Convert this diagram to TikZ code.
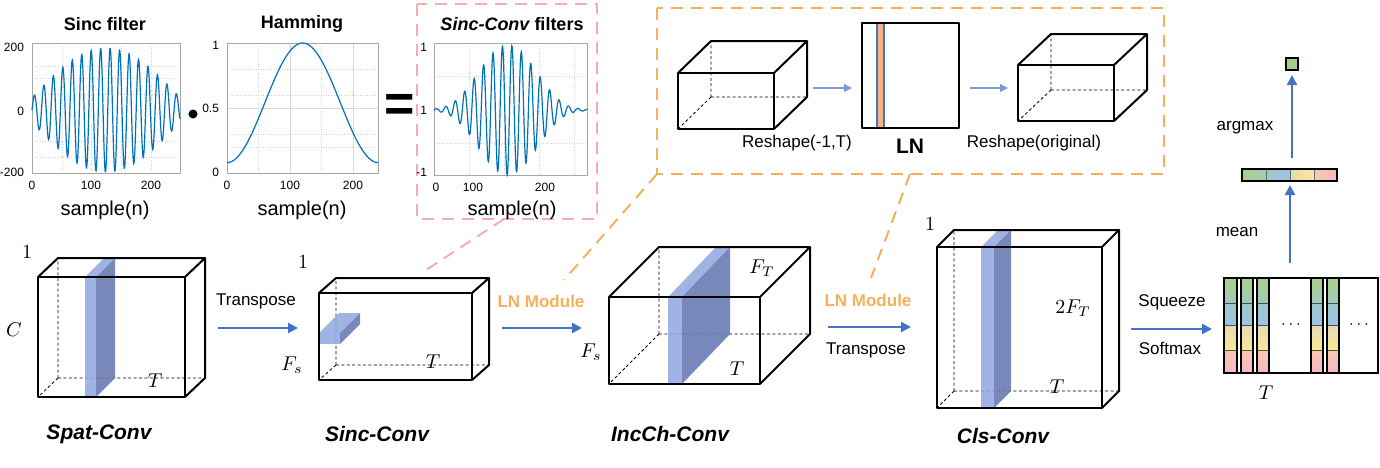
\documentclass[tikz,border=0pt]{standalone}
\usepackage{fontspec}
\setsansfont{Liberation Sans}
\usetikzlibrary{arrows.meta}
\definecolor{arr}{HTML}{4472C4}
\definecolor{org}{HTML}{F4B15A}
\definecolor{pnk}{HTML}{F2AEB0}
\definecolor{pb}{HTML}{0072BD}
\definecolor{sl}{HTML}{8EA7E0}
\definecolor{sd}{HTML}{6A7BB2}
\definecolor{cg}{HTML}{A8D08D}
\definecolor{cb}{HTML}{9DC3E6}
\definecolor{cy}{HTML}{FFE699}
\definecolor{cp}{HTML}{F4B6C2}
\tikzset{
 hid/.style={dash pattern=on 1.5pt off 1.2pt,line width=0.4pt},
 edge/.style={line width=1pt,line join=round},
 bar/.style={-{Triangle[length=5pt,width=5pt]},arr,line width=1.1pt},
 sarr/.style={-{Triangle[length=4pt,width=4pt]},arr!70,line width=0.8pt},
 lab/.style={font=\sffamily\fontsize{8.5}{10}\selectfont},
 ttl/.style={font=\sffamily\bfseries\fontsize{9}{11}\selectfont},
 tick/.style={font=\sffamily\fontsize{6}{7}\selectfont},
 ccap/.style={font=\sffamily\bfseries\itshape\fontsize{10.5}{12}\selectfont},
 mth/.style={font=\fontsize{10}{12}\selectfont},
 lnm/.style={font=\sffamily\bfseries\fontsize{8.5}{10}\selectfont,text=org},
 odash/.style={org,dashed,dash pattern=on 6pt off 4pt,line width=1pt},
 pdash/.style={pnk,dash pattern=on 6pt off 4pt,line width=1pt},
 grd/.style={gray!35,densely dotted,line width=0.3pt},
 axb/.style={gray!70,line width=0.4pt},
 smp/.style={font=\sffamily\fontsize{10}{12}\selectfont}
}
\newcommand\cubehid[6]{\draw[hid] ({#1+(#5)},{#4+(#6)}) -- ({#1+(#5)},{#2+(#6)}) ({#1+(#5)},{#4+(#6)}) -- ({#3+(#5)},{#4+(#6)}) ({#1+(#5)},{#4+(#6)}) -- (#1,#4);}
\newcommand\cubeedge[6]{\draw[edge] (#1,#2) rectangle (#3,#4);
 \draw[edge] (#1,#2) -- ({#1+(#5)},{#2+(#6)}) -- ({#3+(#5)},{#2+(#6)}) -- (#3,#2) ({#3+(#5)},{#2+(#6)}) -- ({#3+(#5)},{#4+(#6)}) -- (#3,#4);}
\newcommand\slab[6]{%
 \fill[sl,opacity=0.85] (#1,#3) rectangle (#2,#4);
 \fill[sl,opacity=0.85] (#1,#3) -- ({#1+(#5)},{#3+(#6)}) -- ({#2+(#5)},{#3+(#6)}) -- (#2,#3) -- cycle;
 \fill[sd,opacity=0.9] (#2,#3) -- ({#2+(#5)},{#3+(#6)}) -- ({#2+(#5)},{#4+(#6)}) -- (#2,#4) -- cycle;}
\begin{document}
\begin{tikzpicture}[x=0.5pt,y=-0.5pt]
\useasboundingbox (0,0) rectangle (1380,467);
% ---------- plot 1
\foreach \g in {62,91,121,151} \draw[grd] (\g,43) -- (\g,173);
\foreach \g in {66,78,94,141,157} \draw[grd] (32,\g) -- (180,\g);
\draw[axb] (32,43) rectangle (180,173);
\draw[pb,line width=0.6pt] plot[domain=0:250,samples=500] ({32+0.592*\x},{110-0.31*(40+160*cos(0.72*(\x-125)))*sin(22.5*\x)});
\node[ttl] (t1) at (105,24) {Sinc filter};
\node[tick,anchor=east] (a1) at (31,47) {200};
\node[tick,anchor=east] (a2) at (31,111) {0};
\node[tick,anchor=east] (a3) at (31,172) {-200};
\node[tick] (a4) at (32,185) {0};
\node[tick] (a5) at (91,185) {100};
\node[tick] (a6) at (151,185) {200};
\node[smp] (s1) at (105,210) {sample(n)};
\node[circle,fill=black,inner sep=1.6pt] (dot) at (193,114) {};
% ---------- plot 2
\foreach \g in {258,290,321,353} \draw[grd] (\g,43) -- (\g,173);
\foreach \g in {69,95,134,147} \draw[grd] (227,\g) -- (378,\g);
\draw[gray!30,line width=0.4pt] (227,108) -- (378,108) (290,43) -- (290,173) (353,43)--(353,173);
\draw[axb] (227,43) rectangle (378,173);
\draw[pb,line width=0.6pt] plot[domain=0:240,samples=200] ({227+0.63*\x},{173-130*(0.54-0.46*cos(1.5*\x))});
\node[ttl] (t2) at (302,24) {Hamming};
\node[tick,anchor=east] (b1) at (226,45) {1};
\node[tick,anchor=east] (b2) at (226,108) {0.5};
\node[tick,anchor=east] (b3) at (226,172) {0};
\node[tick] (b4) at (227,185) {0};
\node[tick] (b5) at (290,185) {100};
\node[tick] (b6) at (353,185) {200};
\node[smp] (s2) at (302,210) {sample(n)};
\node[font=\sffamily\bfseries\fontsize{26}{26}\selectfont] (eq) at (400,108) {=};
% ---------- plot 3
\draw[pdash] (417,4) rectangle (597,219);
\foreach \g in {469,504,539,574} \draw[grd] (\g,43) -- (\g,175);
\foreach \g in {76,143} \draw[grd] (434,\g) -- (587,\g);
\draw[axb] (434,43) rectangle (587,175);
\draw[pb,line width=0.6pt] plot[domain=0:260,samples=500] ({434+0.59*\x},{110-65*(40+160*cos(0.72*(\x-125)))/200*(0.54-0.46*cos(1.44*\x))*sin(22.5*\x)});
\node[ttl] (t3) at (512,24) {\itshape Sinc-Conv\upshape\ filters};
\node[tick,anchor=east] (c1) at (434,47) {1};
\node[tick,anchor=east] (c2) at (434,110) {1};
\node[tick,anchor=east] (c3) at (434,172) {-1};
\node[tick] (c4) at (436,187) {0};
\node[tick] (c5) at (473,187) {100};
\node[tick] (c6) at (545,187) {200};
\node[smp] (s3) at (512,210) {sample(n)};
% ---------- LN module box
\draw[odash] (657,8) rectangle (1164,174);
\cubehid{678}{73}{774}{129}{33}{-32}
\cubeedge{678}{73}{774}{129}{33}{-32}
\fill[org!80!red!70] (877,23) rectangle (884,128);
\draw[arr,line width=0.6pt] (877,23) rectangle (884,128);
\draw[edge] (862,23) rectangle (959,128);
\cubehid{1018}{65}{1114}{121}{33}{-31}
\cubeedge{1018}{65}{1114}{121}{33}{-31}
\coordinate (r1a) at (813,88); \coordinate (r1b) at (852,88);
\coordinate (r2a) at (970,88); \coordinate (r2b) at (1008,88);
\draw[sarr] (r1a) -- (r1b);
\draw[sarr] (r2a) -- (r2b);
\node[lab] (rs1) at (797,143) {Reshape(-1,T)};
\node[font=\sffamily\bfseries\fontsize{10.5}{12}\selectfont] (ln) at (910,146) {LN};
\node[lab] (rs2) at (1034,143) {Reshape(original)};
% connectors to detail boxes
\coordinate (pk1) at (504,219); \coordinate (pk2) at (426,270);
\draw[pdash] (pk1) -- (pk2);
\coordinate (o1) at (657,174); \coordinate (o2) at (564,280);
\draw[odash] (o1) -- (o2);
\coordinate (o3) at (910,174); \coordinate (o4) at (871,278);
\draw[odash] (o3) -- (o4);
% ---------- Spat-Conv
\cubehid{38}{277}{185}{397}{20}{-19}
\slab{85}{96}{277}{397}{19}{-19}
\cubeedge{38}{277}{185}{397}{20}{-19}
\node[mth] (one1) at (27,252) {1};
\node[mth] (C) at (14,330) {$C$};
\node[mth] (T1) at (155,381) {$T$};
\node[ccap] (spat) at (99,434) {Spat-Conv};
\coordinate (ta) at (218,328); \coordinate (tb) at (298,328);
\draw[bar] (ta) -- (tb);
\node[lab] (tr1) at (256,301) {Transpose};
% ---------- Sinc-Conv
\cubehid{319}{293}{472}{380}{17}{-15}
\slab{319}{340}{333}{344}{20}{-20}
\cubeedge{319}{293}{472}{380}{17}{-15}
\node[mth] (one2) at (303,262) {1};
\node[mth] (Fs1) at (292,365) {$F_s$};
\node[mth] (T2) at (433,362) {$T$};
\node[ccap] (sinc) at (377,434) {Sinc-Conv};
\coordinate (la) at (502,328); \coordinate (lb) at (582,328);
\draw[bar] (la) -- (lb);
\node[lnm] (lnm1) at (541,301) {LN Module};
% ---------- IncCh-Conv
\cubehid{609}{297}{760}{384}{50}{-50}
\slab{668}{682}{297}{384}{48}{-50}
\cubeedge{609}{297}{760}{384}{50}{-50}
\node[mth] (FT) at (762,268) {$F_T$};
\node[mth] (Fs2) at (591,352) {$F_s$};
\node[mth] (T3) at (737,369) {$T$};
\node[ccap] (inc) at (670,434) {IncCh-Conv};
\coordinate (l2a) at (828,327); \coordinate (l2b) at (911,327);
\draw[bar] (l2a) -- (l2b);
\node[lnm] (lnm2) at (868,300) {LN Module};
\node[lab] (tr2) at (866,350) {Transpose};
% ---------- Cls-Conv
\cubehid{937}{247}{1102}{408}{17}{-17}
\slab{981}{994}{247}{408}{17}{-17}
\cubeedge{937}{247}{1102}{408}{17}{-17}
\node[mth] (one3) at (930,224) {1};
\node[mth] (FT2) at (1073,308) {$2F_T$};
\node[mth] (T4) at (1057,387) {$T$};
\node[ccap] (cls) at (1003,436) {Cls-Conv};
\coordinate (sa) at (1131,329); \coordinate (sb) at (1212,329);
\draw[bar] (sa) -- (sb);
\node[lab] (sq) at (1172,302) {Squeeze};
\node[lab] (sm) at (1170,348) {Softmax};
% ---------- output map
\foreach \xa/\xb in {1224/1237,1241/1253,1257/1269,1311/1323,1327/1339}{
 \shade[top color=cg,bottom color=cg!55!cb] (\xa,278) rectangle (\xb,303);
 \shade[top color=cb!70!cg,bottom color=cb] (\xa,303) rectangle (\xb,325);
 \shade[top color=cy!70!cb,bottom color=cy] (\xa,325) rectangle (\xb,350);
 \shade[top color=cp!60!cy,bottom color=cp] (\xa,350) rectangle (\xb,373);
 \draw[line width=0.4pt,black!70] (\xa,303) -- (\xb,303) (\xa,325) -- (\xb,325) (\xa,350) -- (\xb,350);
 \draw[line width=0.8pt] (\xa,278) rectangle (\xb,373);
}
\draw[line width=1pt] (1224,278) rectangle (1378,373);
\node[font=\fontsize{8}{8}\selectfont] (d1) at (1291,325) {$\cdots$};
\node[font=\fontsize{8}{8}\selectfont] (d2) at (1359,325) {$\cdots$};
\node[mth] (T5) at (1266,393) {$T$};
\coordinate (ma) at (1290,263); \coordinate (mb) at (1290,185);
\draw[bar] (ma) -- (mb);
\node[lab] (mean) at (1237,232) {mean};
\shade[left color=cg,right color=cg!60!cb] (1242,169) rectangle (1266,181);
\shade[left color=cb!70!cg,right color=cb] (1266,169) rectangle (1290,181);
\shade[left color=cy!70!cb,right color=cy] (1290,169) rectangle (1314,181);
\shade[left color=cp!60!cy,right color=cp] (1314,169) rectangle (1337,181);
\draw[line width=0.4pt,black!60] (1266,169) -- (1266,181) (1290,169) -- (1290,181) (1314,169) -- (1314,181);
\draw[line width=1pt] (1242,169) rectangle (1337,181);
\node[lab] (argmax) at (1245,128) {argmax};
\coordinate (aa) at (1292,158); \coordinate (ab) at (1292,75);
\draw[bar] (aa) -- (ab);
\filldraw[fill=cg,line width=0.9pt] (1286,58) rectangle (1298,70);
\end{tikzpicture}
\end{document}
